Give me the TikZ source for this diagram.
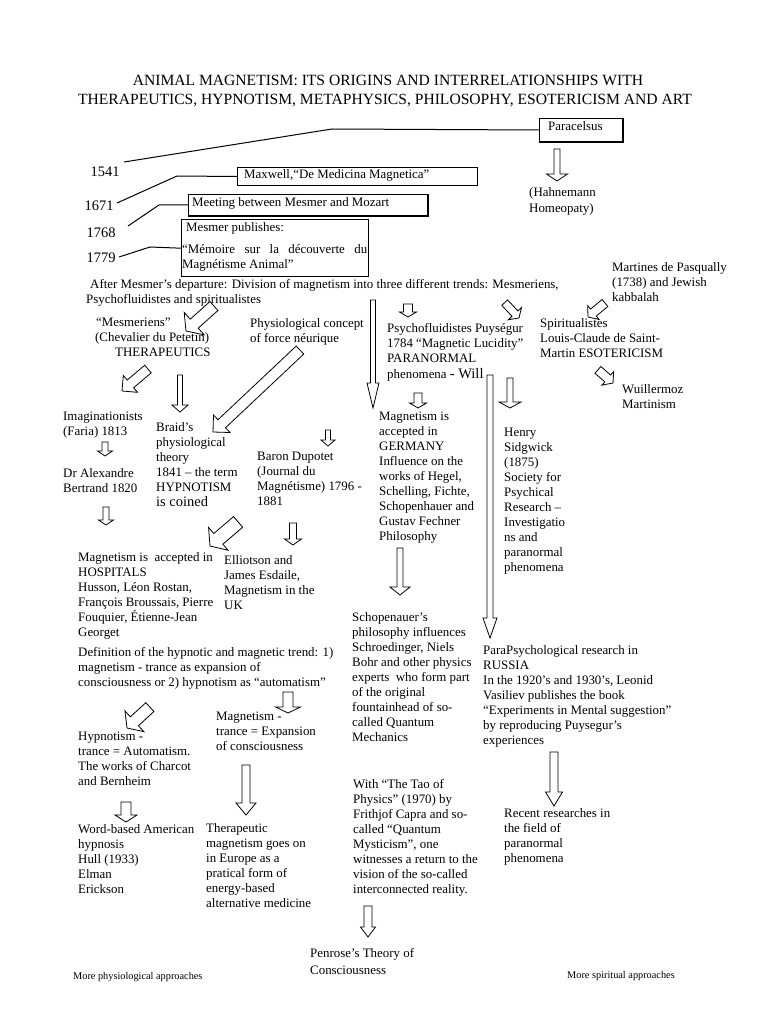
\documentclass[tikz,border=0pt]{standalone}
\usepackage{fontspec}
\setmainfont{Liberation Serif}
\newcommand\blockarr[7]{% tip x, tip y, angle, length, shaft half width, head half width, head length
  \begin{scope}[shift={(#1,#2)}, rotate=#3]
    \draw[barr] (0,0) -- (-#7,#6) -- (-#7,#5) -- (-#4,#5) -- (-#4,-#5) -- (-#7,-#5) -- (-#7,-#6) -- cycle;
  \end{scope}}
\begin{document}
\begin{tikzpicture}[x=1pt,y=-1pt,
  tx/.style={inner sep=0pt, anchor=north west, align=left, font=\fontsize{12.9}{15}\selectfont},
  ttl/.style={inner sep=0pt, font=\fontsize{15.6}{18}\selectfont},
  yr/.style={inner sep=0pt, font=\fontsize{14.5}{17}\selectfont},
  note/.style={inner sep=0pt, anchor=west, font=\fontsize{10.3}{12}\selectfont},
  boxs/.style={draw, line width=1pt, inner sep=0pt, anchor=north west},
  conn/.style={line width=1pt},
  barr/.style={draw, fill=white, line width=0.8pt, line join=miter}]
\useasboundingbox (0,0) rectangle (768,1024);

% title
\node[ttl] (t1) at (388,80) {ANIMAL MAGNETISM: ITS ORIGINS AND INTERRELATIONSHIPS WITH};
\node[ttl] (t2) at (385,101) {THERAPEUTICS, HYPNOTISM, METAPHYSICS, PHILOSOPHY, ESOTERICISM AND ART};

% boxes
\node[boxs, minimum width=83pt, minimum height=23pt] (para) at (539,118) {};
\node[boxs, minimum width=240pt, minimum height=18pt] (max) at (237,167) {};
\node[boxs, minimum width=239pt, minimum height=21pt] (meet) at (188,194) {};
\node[boxs, minimum width=187pt, minimum height=57pt, line width=1.4pt] (mes) at (181,219) {};
\draw[line width=2pt] (para.north east) -- (para.south east) -- (para.south west);
\draw[line width=2pt] (meet.north east) -- (meet.south east) -- (meet.south west);

\node[tx] (parat) at (548,121) {Paracelsus};
\node[tx] (maxt) at (244,169) {Maxwell,“De Medicina Magnetica”};
\node[tx] (meett) at (192,197) {Meeting between Mesmer and Mozart};
\node[tx] (mest) at (182,222) {\hspace*{4pt}Mesmer publishes:\\[7pt]\makebox[185pt][s]{“Mémoire sur la découverte du}\\Magnétisme Animal”};

% years
\node[yr] (y1541) at (105,172) {1541};
\node[yr] (y1671) at (99,206) {1671};
\node[yr] (y1768) at (101,233) {1768};
\node[yr] (y1779) at (101,258) {1779};
\coordinate (s1) at (124,162); \coordinate (b1) at (332,129);
\coordinate (s2) at (117,203); \coordinate (b2) at (177,176);
\coordinate (s3) at (128,226); \coordinate (b3) at (159,205);
\coordinate (s4) at (119,257); \coordinate (b4) at (150,247);
\draw[conn] (s1) -- (b1) -- (para.west);
\draw[conn] (s2) -- (b2) -- (max.west);
\draw[conn] (s3) -- (b3) -- (meet.west);
\draw[conn] (s4) -- (b4) -- (mes.west);

% texts
\node[tx] (hahn) at (529,187) {(Hahnemann\\[1pt]Homeopaty)};
\node[tx] (mart) at (612,262) {Martines de Pasqually\\(1738) and Jewish\\kabbalah};
\node[tx] (after) at (86,279) {\hspace*{4pt}After Mesmer’s departure: Division of magnetism into three different trends: Mesmeriens,\\Psychofluidistes and spiritualistes};
\node[tx] (mesm) at (95,318) {\hspace*{1pt}“Mesmeriens”\\(Chevalier du Petetin)\\\hspace*{20pt}THERAPEUTICS};
\node[tx] (phys) at (250,318) {Physiological concept\\of force néurique};
\node[tx] (psy) at (387,323) {Psychofluidistes Puységur\\1784 “Magnetic Lucidity”\\PARANORMAL\\[1pt]phenomena {\fontsize{14.5}{15}\selectfont - Will}};
\node[tx] (spir) at (540,318) {Spiritualistes\\Louis-Claude de Saint-\\Martin ESOTERICISM};
\node[tx] (wuil) at (622,384) {Wuillermoz\\Martinism};
\node[tx] (imag) at (63,412) {Imaginationists\\(Faria) 1813};
\node[tx] (bert) at (63,468) {Dr Alexandre\\Bertrand 1820};
\node[tx] (braid) at (156,422) {Braid’s\\physiological\\theory\\1841 – the term\\HYPNOTISM\\{\fontsize{14.5}{15}\selectfont is coined}};
\node[tx] (baron) at (257,452) {Baron Dupotet\\(Journal du\\Magnétisme) 1796 -\\1881};
\node[tx] (germ) at (379,412) {Magnetism is\\accepted in\\GERMANY\\Influence on the\\works of Hegel,\\Schelling, Fichte,\\Schopenhauer and\\Gustav Fechner\\Philosophy};
\node[tx] (henry) at (504,428) {Henry\\Sidgwick\\(1875)\\Society for\\Psychical\\Research –\\Investigatio\\ns and\\paranormal\\phenomena};
\node[tx] (hosp) at (78,552) {Magnetism is\ \ accepted in\\HOSPITALS\\Husson, Léon Rostan,\\François Broussais, Pierre\\Fouquier, Étienne-Jean\\Georget};
\node[tx] (elli) at (224,555) {Elliotson and\\James Esdaile,\\Magnetism in the\\UK};
\node[tx] (schop) at (352,612) {Schopenauer’s\\philosophy influences\\Schroedinger, Niels\\Bohr and other physics\\experts\ \ who form part\\of the original\\fountainhead of so-\\called Quantum\\Mechanics};
\node[tx] (defn) at (78,647) {Definition of the hypnotic and magnetic trend: 1)\\magnetism - trance as expansion of\\consciousness or 2) hypnotism as “automatism”};
\node[tx] (russ) at (483,645) {ParaPsychological research in\\RUSSIA\\In the 1920’s and 1930’s, Leonid\\Vasiliev publishes the book\\“Experiments in Mental suggestion”\\by reproducing Puysegur’s\\experiences};
\node[tx] (magtr) at (216,712) {Magnetism -\\trance = Expansion\\of consciousness};
\node[tx] (hypn) at (78,732) {Hypnotism -\\trance = Automatism.\\The works of Charcot\\and Bernheim};
\node[tx] (tao) at (353,779) {With “The Tao of\\Physics” (1970) by\\Frithjof Capra and so-\\called “Quantum\\Mysticism”, one\\witnesses a return to the\\vision of the so-called\\interconnected reality.};
\node[tx] (recent) at (504,808) {Recent researches in\\the field of\\paranormal\\phenomena};
\node[tx] (word) at (78,824) {Word-based American\\hypnosis\\Hull (1933)\\Elman\\Erickson};
\node[tx] (thera) at (206,823) {Therapeutic\\magnetism goes on\\in Europe as a\\pratical form of\\energy-based\\alternative medicine};
\node[tx] (penr) at (310,948) {Penrose’s Theory of\\[2pt]Consciousness};
\node[note] (morephys) at (73,977) {More physiological approaches};
\node[note] (morespir) at (567,976) {More spiritual approaches};

% block arrows
\blockarr{557}{181}{-90}{32}{3}{10.5}{7}        % Paracelsus -> Hahnemann
\blockarr{186}{331}{-138.2}{37.5}{6}{15}{11}    % -> Mesmeriens
\blockarr{122}{391}{-139.8}{34}{5}{11}{11}      % -> Imaginationists
\blockarr{180}{412}{-90}{37}{2.5}{8}{7}         % THERAPEUTICS -> Braid
\blockarr{213}{432}{-136.7}{119.5}{5.5}{12}{12} % force neurique -> Braid
\blockarr{373}{408}{-90}{108}{2.5}{6}{25}       % -> Germany (long)
\blockarr{408}{317}{-90}{13}{4.5}{8.5}{5}       % -> Psychofluidistes
\blockarr{519}{318}{-47}{21}{4}{9}{6}           % -> Spiritualistes
\blockarr{588}{317}{-140.5}{22}{4.5}{9}{7}      % Martines -> Spiritualistes
\blockarr{613}{383}{-41}{20}{4.5}{9}{7}         % -> Wuillermoz
\blockarr{490}{638}{-90}{263}{3}{7}{20}         % Will -> Russia
\blockarr{510}{408}{-90}{30}{3}{11}{6}          % -> Henry Sidgwick
\blockarr{418}{408}{-90}{15}{4}{8.5}{5}         % Psycho -> Germany
\blockarr{400}{595}{-90}{47}{3}{10}{8}          % Germany -> Schopenauer
\blockarr{105}{456}{-90}{14}{3}{7.5}{5}         % Imaginationists -> Bertrand
\blockarr{106}{525}{-90}{18}{3}{7.5}{5}         % Bertrand -> Hospitals
\blockarr{328}{446}{-90}{16}{2.5}{7}{6}         % -> Baron
\blockarr{210}{546}{-139.4}{37}{7}{15}{11}      % Braid -> Hospitals
\blockarr{293}{545}{-90}{22}{3.5}{8.5}{6}       % Baron -> Elliotson
\blockarr{127}{728}{-137.6}{31}{6}{14}{10}      % -> Hypnotism
\blockarr{288}{713}{-90}{21}{5}{12.5}{6}        % -> Magnetism trance
\blockarr{126}{822}{-90}{20}{5}{11}{7}          % -> Word-based
\blockarr{246}{815}{-90}{50}{4}{10}{12}         % -> Therapeutic
\blockarr{368}{937}{-90}{31}{4}{7.5}{10}        % -> Penrose
\blockarr{554}{806}{-90}{54}{4}{8.5}{14}        % -> Recent
\end{tikzpicture}
\end{document}
